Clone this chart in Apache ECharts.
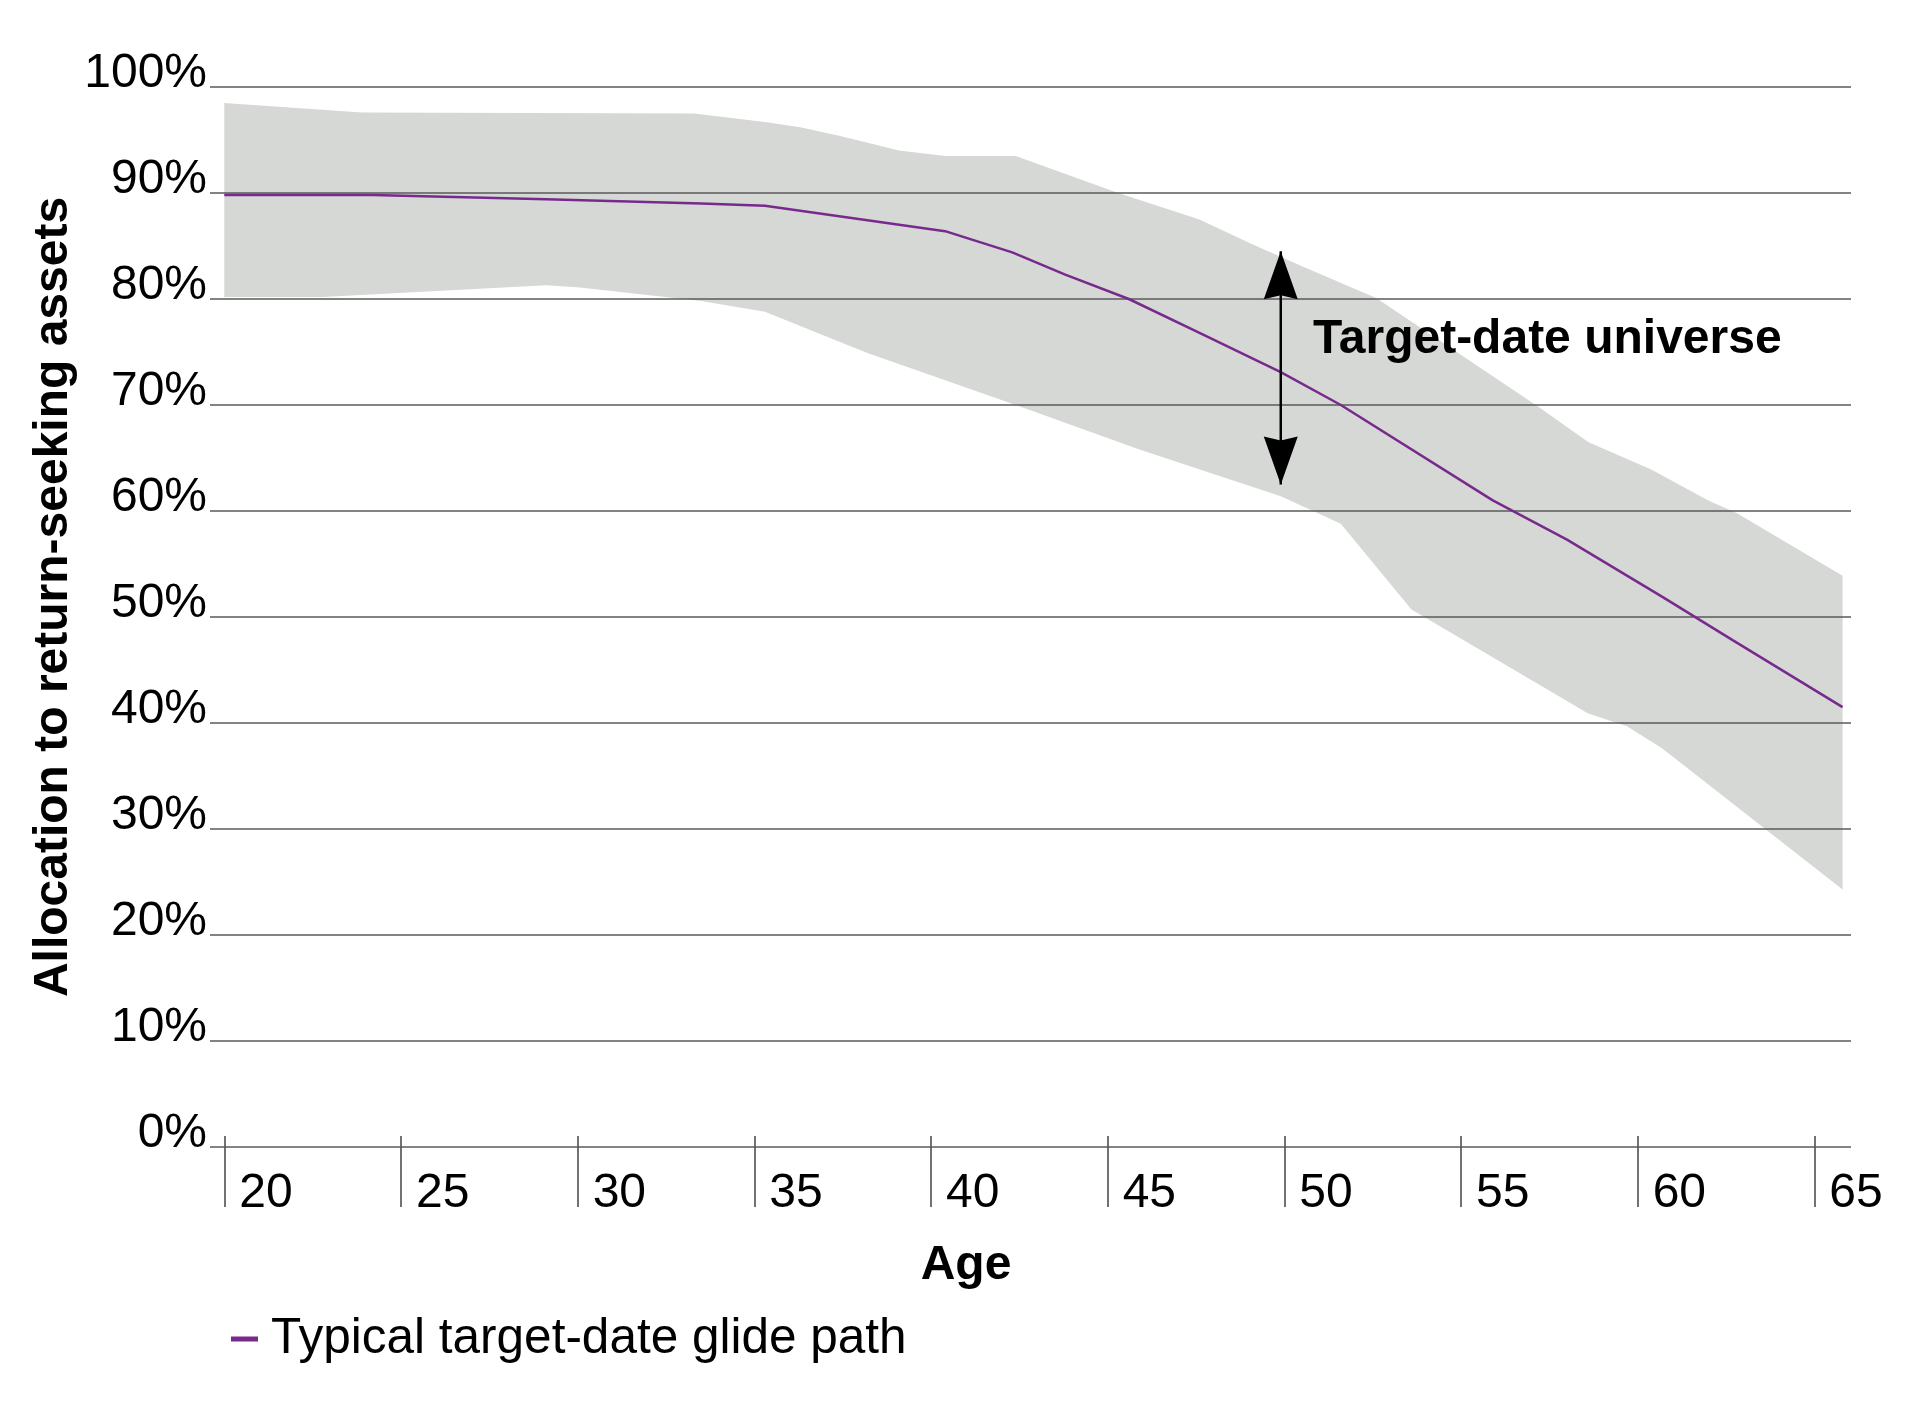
<!DOCTYPE html>
<html>
<head>
<meta charset="utf-8">
<script src="https://cdn.jsdelivr.net/npm/echarts/dist/echarts.min.js"></script>
<style>
html,body{margin:0;padding:0;background:#ffffff;}
#chart{width:1920px;height:1409px;}
</style>
</head>
<body>
<div id="chart"></div>
<script>
// ---- data ----
const xTickMin = 20;
const xTickMax = 65;
const xTickStep = 5;

const glideAges   = [20, 24.2, 29.1, 33.5, 35.3, 37.2, 40.4, 42.3, 43.8, 45.6, 47.6, 49.9, 51.6, 55.9, 58.0, 60.7, 62.7, 65.8];
const glideValues = [89.8, 89.8, 89.4, 89.0, 88.8, 87.9, 86.4, 84.4, 82.3, 80.0, 76.8, 73.1, 70.0, 61.0, 57.3, 51.9, 47.8, 41.5];

const upperAges   = [20, 23.9, 33.3, 35.3, 36.3, 37.4, 39.1, 40.4, 42.4, 45.3, 47.6, 49.0, 50.5, 52.6, 57.2, 58.6, 60.4, 62.0, 62.8, 65.8];
const upperValues = [98.5, 97.6, 97.5, 96.7, 96.2, 95.4, 94.0, 93.5, 93.5, 90.0, 87.5, 85.3, 83.1, 80.1, 69.8, 66.5, 63.9, 61.0, 59.8, 53.9];

const lowerAges   = [20, 22.8, 29.1, 30.0, 33.5, 35.3, 38.2, 42.4, 45.9, 49.9, 51.6, 53.6, 58.6, 59.7, 60.7, 65.8];
const lowerValues = [80.2, 80.2, 81.3, 81.1, 79.8, 78.8, 74.9, 70.0, 65.8, 61.4, 58.8, 50.7, 40.9, 39.7, 37.6, 24.3];

const arrowAge = 49.9;
const arrowSpan = [84.5, 62.5];

const seriesName = 'Typical target-date glide path';
const annotationText = 'Target-date universe';
const yTitle = 'Allocation to return-seeking assets';
const xTitle = 'Age';

// ---- layout / styles ----
const FONT = '"Liberation Sans", Arial, Helvetica, sans-serif';
const PURPLE = '#782a8c';
const BAND = '#d6d8d5';
const GRIDC = '#5a5a5a';

// tick axis pixel frame and plot frame (gridlines extend slightly beyond the ticks)
const tickLeft = 224.3, tickRight = 1814.3;
const plotLeft = 210, plotRight = 1851;
const pxPerYear = (tickRight - tickLeft) / (xTickMax - xTickMin);
const ageMin = xTickMin - (tickLeft - plotLeft) / pxPerYear;
const ageMax = xTickMin + (plotRight - tickLeft) / pxPerYear;

const glideData = glideAges.map((a, i) => [a, glideValues[i]]);
const upperPts = upperAges.map((a, i) => [a, upperValues[i]]);
const lowerPts = lowerAges.map((a, i) => [a, lowerValues[i]]);

const HEAD_W = 34, HEAD_H = 48;
const arrowHeadPath = 'path://M0,0 L17,48 L0,44 L-17,48 Z';
const arrowHeads = arrowSpan.map((v, i) => ({
  value: [arrowAge, v],
  symbolRotate: i === 0 ? 0 : 180,
  symbolOffset: [0, i === 0 ? HEAD_H / 2 : -HEAD_H / 2]
}));

const chart = echarts.init(document.getElementById('chart'), null, {renderer: 'canvas', width: 1920, height: 1409});

const option = {
  animation: false,
  backgroundColor: '#ffffff',
  textStyle: {fontFamily: FONT},
  grid: [
    {left: plotLeft, right: 1920 - plotRight, top: 87, bottom: 262, containLabel: false, outerBoundsMode: 'none'},
    {left: tickLeft, right: 1920 - tickRight, top: 87, bottom: 262, containLabel: false, outerBoundsMode: 'none'}
  ],
  xAxis: [
    {gridIndex: 0, type: 'value', min: ageMin, max: ageMax, show: false},
    {
      gridIndex: 1, type: 'value', min: xTickMin, max: xTickMax, interval: xTickStep,
      offset: -11,
      axisLine: {show: false},
      axisTick: {show: true, length: 71, lineStyle: {color: '#444444', width: 1.5}},
      splitLine: {show: false},
      axisLabel: {
        show: true, color: '#000000', fontSize: 48, fontFamily: FONT,
        align: 'left', padding: [0, 0, 0, 15], margin: 34, lineHeight: 48,
        showMinLabel: true, showMaxLabel: true, hideOverlap: false
      }
    }
  ],
  yAxis: [
    {
      gridIndex: 0, type: 'value', min: 0, max: 100, interval: 10, z: 3,
      axisLine: {show: false},
      axisTick: {show: false},
      splitLine: {show: true, lineStyle: {color: GRIDC, width: 1.5}},
      axisLabel: {
        formatter: '{value}%', color: '#000000', fontSize: 48, fontFamily: FONT,
        margin: 3, verticalAlign: 'bottom', lineHeight: 26
      }
    },
    {gridIndex: 1, type: 'value', min: 0, max: 100, show: false}
  ],
  legend: {
    data: [seriesName],
    left: 231, top: 1314, padding: 0,
    icon: 'rect', itemWidth: 27, itemHeight: 5,
    textStyle: {fontSize: 49.5, color: '#000000', fontFamily: FONT, lineHeight: 48, padding: [0, 0, 0, 8]}
  },
  series: [
    {
      type: 'custom',
      name: 'band',
      xAxisIndex: 0, yAxisIndex: 0,
      z: 1, silent: true, clip: false,
      data: [[xTickMin, 0]],
      renderItem: function (params, api) {
        const pts = [];
        upperPts.forEach(p => pts.push(api.coord(p)));
        lowerPts.slice().reverse().forEach(p => pts.push(api.coord(p)));
        return {type: 'polygon', shape: {points: pts}, style: {fill: BAND}};
      }
    },
    {
      type: 'line',
      name: seriesName,
      xAxisIndex: 0, yAxisIndex: 0,
      z: 4, clip: false, symbol: 'none', smooth: false,
      data: glideData,
      itemStyle: {color: PURPLE},
      lineStyle: {color: PURPLE, width: 2.5}
    },
    {
      type: 'line',
      name: 'arrowShaft',
      xAxisIndex: 0, yAxisIndex: 0,
      z: 5, clip: false, symbol: 'none', silent: true,
      data: arrowSpan.map(v => [arrowAge, v]),
      itemStyle: {color: '#000000'},
      lineStyle: {color: '#000000', width: 2.5}
    },
    {
      type: 'scatter',
      name: 'arrowHeads',
      xAxisIndex: 0, yAxisIndex: 0,
      z: 6, clip: false, silent: true,
      symbol: arrowHeadPath,
      symbolSize: [HEAD_W, HEAD_H],
      itemStyle: {color: '#000000', opacity: 1},
      data: arrowHeads
    }
  ],
  graphic: [
    {
      type: 'text', x: 54, y: 597, rotation: Math.PI / 2, silent: true,
      style: {text: yTitle, fontSize: 48, fontWeight: 'bold', fontFamily: FONT, fill: '#000000', align: 'center', verticalAlign: 'middle'}
    },
    {
      type: 'text', x: 966, y: 1266, silent: true,
      style: {text: xTitle, fontSize: 48, fontWeight: 'bold', fontFamily: FONT, fill: '#000000', align: 'center', verticalAlign: 'middle'}
    },
    {
      type: 'text', x: 1313, y: 340, silent: true, z: 10,
      style: {text: annotationText, fontSize: 48, fontWeight: 'bold', fontFamily: FONT, fill: '#000000', align: 'left', verticalAlign: 'middle'}
    }
  ]
};

chart.setOption(option);
</script>
</body>
</html>
